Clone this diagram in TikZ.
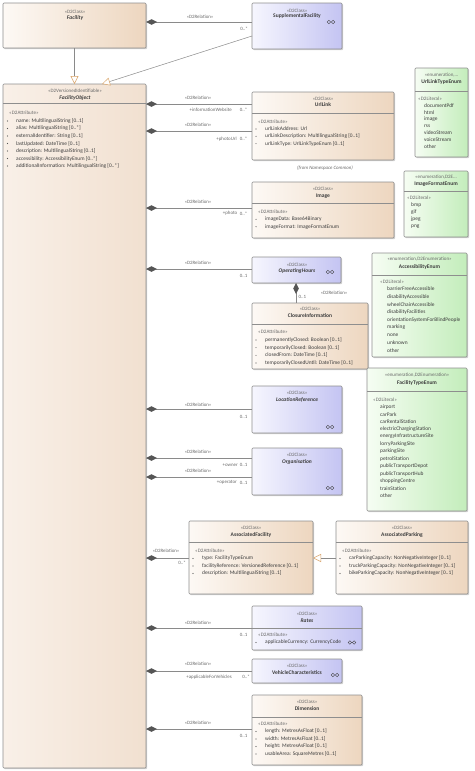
\documentclass[tikz,border=0pt]{standalone}
\usepackage{fontspec}
\setmainfont{Carlito}
\usetikzlibrary{arrows.meta,shadows}
\definecolor{bord}{HTML}{8E8E8E}
\definecolor{linec}{HTML}{8A8A8A}
\definecolor{dia}{HTML}{555555}
\definecolor{txt}{HTML}{3C3C3C}
\definecolor{stc}{HTML}{6A6A6A}
\definecolor{clA}{HTML}{FDF9F5}
\definecolor{clB}{HTML}{EDD6BF}
\definecolor{foA}{HTML}{F9F0E8}
\definecolor{foB}{HTML}{F1E0D0}
\definecolor{ifA}{HTML}{F6F6FE}
\definecolor{ifB}{HTML}{C4C4F2}
\definecolor{enA}{HTML}{F6FDF3}
\definecolor{enB}{HTML}{C3EDBB}
\definecolor{gen}{HTML}{D9A469}
\definecolor{bulc}{HTML}{555555}
\tikzset{
 boxbase/.style={draw=bord, line width=0.55pt, rounded corners=1pt, anchor=north west, inner sep=0pt, outer sep=0pt,
   drop shadow={shadow xshift=1.2pt, shadow yshift=-1.2pt, opacity=0.3, fill=black!60}},
 clsbox/.style={boxbase, left color=clA, right color=clB},
 fobox/.style={boxbase, left color=foA, right color=foB},
 ifbox/.style={boxbase, left color=ifA, right color=ifB},
 enbox/.style={boxbase, left color=enA, right color=enB},
 sepline/.style={draw=bord, line width=0.45pt},
 stereo/.style={text=stc, inner sep=0pt, font=\fontsize{5}{5}\selectfont},
 cname/.style={text=txt, inner sep=0pt, font=\fontsize{5.5}{6}\selectfont\bfseries},
 iname/.style={text=txt, inner sep=0pt, font=\fontsize{5.5}{6}\selectfont\bfseries\itshape},
 attr/.style={text=txt, inner sep=0pt, anchor=west, font=\fontsize{5.4}{6}\selectfont},
 stattr/.style={text=stc, inner sep=0pt, anchor=west, font=\fontsize{5.1}{6}\selectfont},
 rlab/.style={text=stc, inner sep=0pt, font=\fontsize{4.9}{5}\selectfont},
 mlab/.style={text=stc, inner sep=0pt, anchor=east, font=\fontsize{4.9}{5}\selectfont},
 rel/.style={draw=linec, line width=0.5pt, {Diamond[length=11pt,width=5.5pt,color=dia,fill=dia]}-},
 genl/.style={draw=linec, line width=0.5pt, -{Triangle[open,length=8pt,width=8pt,color=gen,fill=white]}},
 iconst/.style={draw=txt, line width=0.4pt},
}
\newcommand\umlattrs[6]{%
 \foreach \lbl [count=\i from 0] in {#6} {
   \fill[bulc] (#2,{#4+#5*\i}) circle (0.55);
   \node[attr] (#1-\i) at (#3,{#4+#5*\i}) {\lbl};
 }}
\newcommand\umllits[5]{%
 \foreach \lbl [count=\i from 0] in {#5} {
   \node[attr] (#1-\i) at (#2,{#3+#4*\i}) {\lbl};
 }}
\begin{document}
\begin{tikzpicture}[x=1pt,y=-1pt]
\useasboundingbox[fill=white] (0,0) rectangle (474,771);

% ---------------- Facility
\node[clsbox, minimum width=143pt, minimum height=45pt] (fac) at (3,3) {};
\node[stereo] (fac-s) at (75,12) {«D2Class»};
\node[iname] (fac-n) at (75,18.5) {Facility};

% ---------------- SupplementalFacility
\node[ifbox, minimum width=90pt, minimum height=46pt] (sf) at (252,3) {};
\node[stereo] (sf-s) at (297,10.5) {«D2Class»};
\node[cname] (sf-n) at (297,16.5) {SupplementalFacility};
\draw[iconst] (331,22) ++(-2.1,0) circle (1.8) ++(4.2,0) circle (1.8);

% ---------------- FacilityObject
\node[fobox, minimum width=143pt, minimum height=684pt] (fo) at (3,84) {};
\node[stereo] (fo-s) at (75,90.5) {«D2VersionedIdentifiable»};
\node[iname] (fo-n) at (75,98) {FacilityObject};
\draw[sepline] (fo.west |- 0,103.5) -- (fo.east |- 0,103.5);
\node[stattr] (fo-a) at (9,113) {«D2Attribute»};
\umlattrs{fo}{7.5}{16}{121}{7.5}{name: MultilingualString [0..1], alias: MultilingualString [0..*], externalIdentifier: String [0..1], lastUpdated: DateTime [0..1], description: MultilingualString [0..1], accessibility: AccessibilityEnum [0..*], additionalInformation: MultilingualString [0..*]}

% ---------------- UrlLink
\node[clsbox, minimum width=142pt, minimum height=68pt] (ul) at (252,92) {};
\node[stereo] (ul-s) at (323,98.5) {«D2Class»};
\node[cname] (ul-n) at (323,104.5) {UrlLink};
\draw[sepline] (ul.west |- 0,113) -- (ul.east |- 0,113);
\node[stattr] (ul-a) at (258,121.5) {«D2Attribute»};
\umlattrs{ul}{256}{265}{129}{7.3}{urlLinkAddress: Url, urlLinkDescription: MultilingualString [0..1], urlLinkType: UrlLinkTypeEnum [0..1]}
\node[rlab, font=\fontsize{4.9}{5}\selectfont\itshape] (ul-f) at (325,168) {(from Namespace Common)};

% ---------------- Image
\node[clsbox, minimum width=142pt, minimum height=56pt] (im) at (252,182) {};
\node[stereo] (im-s) at (323,189) {«D2Class»};
\node[cname] (im-n) at (323,196) {Image};
\draw[sepline] (im.west |- 0,203) -- (im.east |- 0,203);
\node[stattr] (im-a) at (258,212) {«D2Attribute»};
\umlattrs{im}{256}{265}{219.3}{7.4}{imageData: Base64Binary, imageFormat: ImageFormatEnum}

% ---------------- OperatingHours
\node[ifbox, minimum width=89pt, minimum height=26pt] (oh) at (252,257) {};
\node[stereo] (oh-s) at (297,264.5) {«D2Class»};
\node[iname] (oh-n) at (297,271.5) {OperatingHours};
\draw[iconst] (330,272) ++(-2.1,0) circle (1.8) ++(4.2,0) circle (1.8);

% ---------------- ClosureInformation
\node[clsbox, minimum width=116pt, minimum height=66pt] (ci) at (252,303) {};
\node[stereo] (ci-s) at (310,309) {«D2Class»};
\node[cname] (ci-n) at (310,316) {ClosureInformation};
\draw[sepline] (ci.west |- 0,324) -- (ci.east |- 0,324);
\node[stattr] (ci-a) at (258,332) {«D2Attribute»};
\umlattrs{ci}{256}{265}{340}{7.65}{permanentlyClosed: Boolean [0..1], temporarilyClosed: Boolean [0..1], closedFrom: DateTime [0..1], temporarilyClosedUntil: DateTime [0..1]}

% ---------------- LocationReference
\node[ifbox, minimum width=90pt, minimum height=47pt] (lr) at (252,386) {};
\node[stereo] (lr-s) at (297,393) {«D2Class»};
\node[iname] (lr-n) at (297,400) {LocationReference};
\draw[iconst] (330,427) ++(-2.1,0) circle (1.8) ++(4.2,0) circle (1.8);

% ---------------- Organisation
\node[ifbox, minimum width=90pt, minimum height=47pt] (org) at (252,448) {};
\node[stereo] (org-s) at (297,455) {«D2Class»};
\node[iname] (org-n) at (297,462) {Organisation};
\draw[iconst] (330,488) ++(-2.1,0) circle (1.8) ++(4.2,0) circle (1.8);

% ---------------- AssociatedFacility
\node[clsbox, minimum width=124pt, minimum height=73pt] (af) at (189,521) {};
\node[stereo] (af-s) at (251,527.5) {«D2Class»};
\node[cname] (af-n) at (251,535) {AssociatedFacility};
\draw[sepline] (af.west |- 0,542) -- (af.east |- 0,542);
\node[stattr] (af-a) at (195,551) {«D2Attribute»};
\umlattrs{af}{193}{202}{558.5}{7.5}{type: FacilityTypeEnum, facilityReference: VersionedReference [0..1], description: MultilingualString [0..1]}

% ---------------- AssociatedParking
\node[clsbox, minimum width=132pt, minimum height=73pt] (ap) at (336,521) {};
\node[stereo] (ap-s) at (402,527.5) {«D2Class»};
\node[cname] (ap-n) at (402,535) {AssociatedParking};
\draw[sepline] (ap.west |- 0,542) -- (ap.east |- 0,542);
\node[stattr] (ap-a) at (342,551) {«D2Attribute»};
\umlattrs{ap}{340}{349}{558.5}{7.5}{carParkingCapacity: NonNegativeInteger [0..1], truckParkingCapacity: NonNegativeInteger [0..1], bikeParkingCapacity: NonNegativeInteger [0..1]}

% ---------------- Rates
\node[ifbox, minimum width=110pt, minimum height=44pt] (ra) at (252,606) {};
\node[stereo] (ra-s) at (307,614) {«D2Class»};
\node[iname] (ra-n) at (307,620.5) {Rates};
\draw[sepline] (ra.west |- 0,628) -- (ra.east |- 0,628);
\node[stattr] (ra-a) at (258,635) {«D2Attribute»};
\umlattrs{ra}{256}{265}{642.5}{7.5}{applicableCurrency: CurrencyCode}
\draw[iconst] (352,642.5) ++(-2.1,0) circle (1.8) ++(4.2,0) circle (1.8);

% ---------------- VehicleCharacteristics
\node[ifbox, minimum width=90pt, minimum height=24pt] (vc) at (252,659) {};
\node[stereo] (vc-s) at (297,665.5) {«D2Class»};
\node[cname] (vc-n) at (297,673) {VehicleCharacteristics};
\draw[iconst] (335,675) ++(-2.1,0) circle (1.8) ++(4.2,0) circle (1.8);

% ---------------- Dimension
\node[clsbox, minimum width=110pt, minimum height=70pt] (dim) at (252,695) {};
\node[stereo] (dim-s) at (307,702) {«D2Class»};
\node[cname] (dim-n) at (307,709) {Dimension};
\draw[sepline] (dim.west |- 0,717) -- (dim.east |- 0,717);
\node[stattr] (dim-a) at (258,724) {«D2Attribute»};
\umlattrs{dim}{256}{265}{731.5}{7.5}{length: MetresAsFloat [0..1], width: MetresAsFloat [0..1], height: MetresAsFloat [0..1], usableArea: SquareMetres [0..1]}

% ---------------- UrlLinkTypeEnum
\node[enbox, minimum width=53pt, minimum height=89pt] (ule) at (415,68) {};
\node[stereo] (ule-s) at (441.5,75.5) {«enumeration,...};
\node[cname] (ule-n) at (441.5,82.5) {UrlLinkTypeEnum};
\draw[sepline] (ule.west |- 0,91) -- (ule.east |- 0,91);
\node[stattr] (ule-a) at (418,98.5) {«D2Literal»};
\umllits{ule}{424}{105.5}{6.9}{documentPdf, html, image, rss, videoStream, voiceStream, other}

% ---------------- ImageFormatEnum
\node[enbox, minimum width=64pt, minimum height=66pt] (ife) at (404,171) {};
\node[stereo] (ife-s) at (436,177.5) {«enumeration,D2E...};
\node[cname] (ife-n) at (436,184.5) {ImageFormatEnum};
\draw[sepline] (ife.west |- 0,191) -- (ife.east |- 0,191);
\node[stattr] (ife-a) at (407,198) {«D2Literal»};
\umllits{ife}{411}{205.5}{7}{bmp, gif, jpeg, png}

% ---------------- AccessibilityEnum
\node[enbox, minimum width=95pt, minimum height=104pt] (ae) at (372,253) {};
\node[stereo] (ae-s) at (419.5,259.5) {«enumeration,D2Enumeration»};
\node[cname] (ae-n) at (419.5,266.5) {AccessibilityEnum};
\draw[sepline] (ae.west |- 0,275) -- (ae.east |- 0,275);
\node[stattr] (ae-a) at (380,281.5) {«D2Literal»};
\umllits{ae}{387}{289}{7.7}{barrierFreeAccessible, disabilityAccessible, wheelChairAccessible, disabilityFacilities, orientationSystemForBlindPeople, marking, none, unknown, other}

% ---------------- FacilityTypeEnum
\node[enbox, minimum width=100pt, minimum height=143pt] (fte) at (367,368) {};
\node[stereo] (fte-s) at (417,375) {«enumeration,D2Enumeration»};
\node[cname] (fte-n) at (417,382.5) {FacilityTypeEnum};
\draw[sepline] (fte.west |- 0,391) -- (fte.east |- 0,391);
\node[stattr] (fte-a) at (373,399.5) {«D2Literal»};
\umllits{fte}{380}{407}{7.4}{airport, carPark, carRentalStation, electricChargingStation, energyInfrastructureSite, lorryParkingSite, parkingSite, petrolStation, publicTransportDepot, publicTransportHub, shoppingCentre, trainStation, other}

% ================= connectors
% generalizations
\draw[genl] (fac.south) -- (fo.north);
\draw[genl] (sf.west |- 0,36) -- (fo.north -| 102,0);
\draw[genl] (ap.west |- 0,558) -- (af.east |- 0,558);

% compositions
\draw[rel] (fac.east |- 0,22) -- (sf.west |- 0,22);
\node[rlab] (r1) at (200,17) {«D2Relation»};
\node[mlab] (m1) at (248,29) {0..*};

\draw[rel] (fo.east |- 0,104) -- (ul.west |- 0,104);
\node[rlab] (r2) at (198,98) {«D2Relation»};
\node[mlab] (o2) at (232,109.5) {+informationWebsite};
\node[mlab] (m2) at (247.5,109.5) {0..*};

\draw[rel] (fo.east |- 0,131) -- (ul.west |- 0,131);
\node[rlab] (r3) at (198,124.5) {«D2Relation»};
\node[mlab] (o3) at (237,139) {+photoUrl};
\node[mlab] (m3) at (247.5,139) {0..*};

\draw[rel] (fo.east |- 0,208) -- (im.west |- 0,208);
\node[rlab] (r4) at (198,201.5) {«D2Relation»};
\node[mlab] (o4) at (237.5,213.5) {+photo};
\node[mlab] (m4) at (247.5,213.5) {0..*};

\draw[rel] (fo.east |- 0,269) -- (oh.west |- 0,269);
\node[rlab] (r5) at (198,262.7) {«D2Relation»};
\node[mlab] (m5) at (247.5,276) {0..1};

\draw[rel] (oh.south -| 296,0) -- (ci.north -| 296,0);
\node[rlab, anchor=west] (m6) at (298.5,296.5) {0..1};
\node[rlab] (r6) at (334,292.5) {«D2Relation»};

\draw[rel] (fo.east |- 0,409) -- (lr.west |- 0,409);
\node[rlab] (r7) at (198,405) {«D2Relation»};
\node[mlab] (m7) at (247.5,416.5) {0..1};

\draw[rel] (fo.east |- 0,458) -- (org.west |- 0,458);
\node[rlab] (r8) at (198,452) {«D2Relation»};
\node[mlab] (o8) at (238,465) {+owner};
\node[mlab] (m8) at (247.5,465) {0..1};

\draw[rel] (fo.east |- 0,477) -- (org.west |- 0,477);
\node[rlab] (r9) at (198,471) {«D2Relation»};
\node[mlab] (o9) at (237,482.5) {+operator};
\node[mlab] (m9) at (247.5,482.5) {0..1};

\draw[rel] (fo.east |- 0,558) -- (af.west |- 0,558);
\node[rlab] (r10) at (166,551) {«D2Relation»};
\node[mlab] (m10) at (186,562.5) {0..*};

\draw[rel] (fo.east |- 0,628) -- (ra.west |- 0,628);
\node[rlab] (r11) at (198,623.3) {«D2Relation»};
\node[mlab] (m11) at (247.5,635) {0..1};

\draw[rel] (fo.east |- 0,671) -- (vc.west |- 0,671);
\node[rlab] (r12) at (198,663.5) {«D2Relation»};
\node[mlab] (o12) at (232,677) {+applicableForVehicles};
\node[mlab] (m12) at (250,677) {0..*};

\draw[rel] (fo.east |- 0,729) -- (dim.west |- 0,729);
\node[rlab] (r13) at (198,723.3) {«D2Relation»};
\node[mlab] (m13) at (247.5,735.7) {0..1};
\end{tikzpicture}
\end{document}
